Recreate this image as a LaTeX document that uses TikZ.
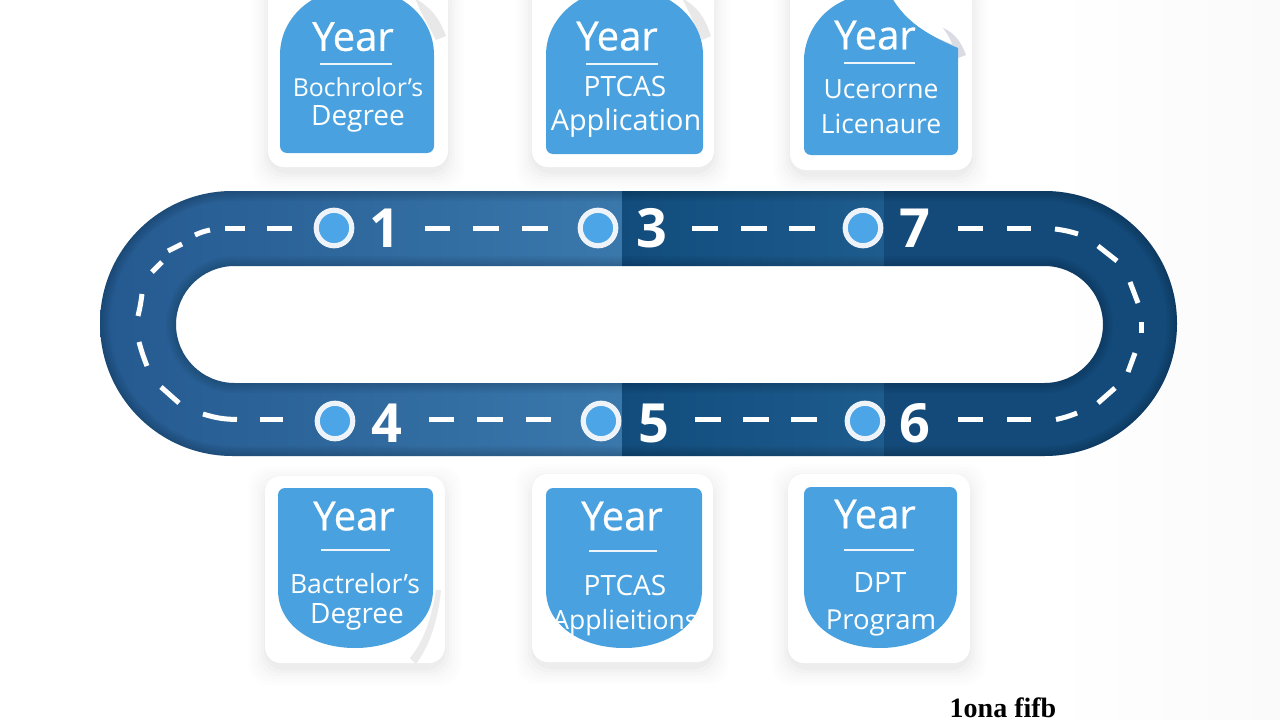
\documentclass[tikz,border=0pt]{standalone}
\usepackage{fontspec}
\setmainfont{Open Sans}
\newfontfamily\serifb{Liberation Serif}
\newfontfamily\yearfont[FakeBold=0.7]{Open Sans}
\definecolor{cardblue}{HTML}{49A2DF}
\definecolor{dotblue}{HTML}{4BA5E6}
\definecolor{tracka}{HTML}{24598F}
\definecolor{trackb}{HTML}{3A78AC}
\definecolor{trackc}{HTML}{114C7C}
\definecolor{trackd}{HTML}{1E5C8E}
\definecolor{tracke}{HTML}{134A79}
\definecolor{ringc}{HTML}{EDF3F8}
\newcommand{\subsize}[1]{\fontsize{#1}{#1}\selectfont}
\tikzset{
  dashw/.style={draw=white,line width=5pt,line cap=butt},
  dot/.style={circle,draw=ringc,line width=5.2pt,fill=dotblue,minimum size=35.5pt,inner sep=0pt},
  num/.style={text=white,font=\fontsize{54}{54}\selectfont\bfseries,inner sep=0pt,text height=38.5pt,text depth=0pt},
  yeartxt/.style={text=white,font=\yearfont\fontsize{40}{40}\selectfont,inner sep=0pt,text height=28.6pt,text depth=0pt},
  subtxt/.style={text=white,inner sep=0pt,text height=19pt,text depth=0pt,font=\subsize{26.5}},
  rule/.style={draw=white,line width=1.4pt,opacity=.9},
  whitecard/.style={fill=white,rounded corners=16pt}
}
% soft shadow + white card: l,t,r,b
\newcommand{\softcard}[4]{%
  \foreach \s/\o in {16/.006,13/.007,10/.009,7/.011,4/.014,1/.018}{%
    \fill[black,opacity=\o,rounded corners=20pt] (#1-\s,#2-\s+6) rectangle (#3+\s,#4+\s+6);}%
  \fill[whitecard] (#1,#2) rectangle (#3,#4);}
\begin{document}
\begin{tikzpicture}[x=1pt,y=-1pt]
\useasboundingbox (0,0) rectangle (1280,720);
\fill[white] (0,0) rectangle (1280,720);
\shade[left color=white,right color=black!2] (1050,0) rectangle (1280,720);

% ---------- track
\begin{scope}[even odd rule]
\clip[rounded corners=132.5pt] (100,191) rectangle (1177,456)
  [rounded corners=58.5pt] (176,266) rectangle (1103,383);
\shade[left color=tracka,right color=trackb] (90,185) rectangle (622,460);
\shade[left color=trackc,right color=trackd] (622,185) rectangle (884,460);
\fill[tracke] (884,185) rectangle (1190,460);
% edge shading
\foreach \w in {4,8,12,16,20}{
  \draw[black,opacity=.035,line width=\w pt,rounded corners=132.5pt] (100,191) rectangle (1177,456);
  \draw[black,opacity=.03,line width=\w pt,rounded corners=58.5pt] (176,266) rectangle (1103,383);
}
\end{scope}

% ---------- dashes, top
\foreach \a/\b in {225/245,267/292,425/450,473/499,522/548,692/718,741/767,789/815,958/983,1007/1031}
  \draw[dashw] (\a,228) -- (\b,228);
% ---------- dashes, bottom
\foreach \a/\b in {260/283,429/454,477/503,526/551,695/721,743/769,791/817,958/983,1007/1031}
  \draw[dashw] (\a,419.5) -- (\b,419.5);
% ---------- dashes, curves
\draw[dashw] (195,235) to[bend left=6] (210,230);
\draw[dashw] (168,251) -- (182,244);
\draw[dashw] (152,272) -- (162,262);
\draw[dashw] (142,294) to[bend left=3] (138,316);
\draw[dashw] (139,342) to[bend right=3] (147,366);
\draw[dashw] (161,387) -- (179,403);
\draw[dashw] (203,414) to[bend right=8] (237,419.5);
\draw[dashw] (1055,229) to[bend left=5] (1078,234);
\draw[dashw] (1098,246) -- (1117,261);
\draw[dashw] (1130,282) -- (1138,303);
\draw[dashw] (1141,322) -- (1141,333);
\draw[dashw] (1135,353) -- (1128,372);
\draw[dashw] (1115,388) -- (1098,403);
\draw[dashw] (1077,413) to[bend left=5] (1056,419.5);

% ---------- dots and numbers
\node[dot] (d1) at (334,228) {};
\node[dot] (d3) at (598,228) {};
\node[dot] (d7) at (863,228) {};
\node[dot] (d4) at (335,421) {};
\node[dot] (d5) at (601,421) {};
\node[dot] (d6) at (865,421) {};
\node[num] (n1) at (385,228) {1};
\node[num] (n3) at (652,228) {3};
\node[num] (n7) at (915,228) {7};
\node[num] (n4) at (387,423) {4};
\node[num] (n5) at (654,423) {5};
\node[num] (n6) at (915,423) {6};

% ---------- top cards
\softcard{268}{-20}{448}{167}
\softcard{532}{-20}{714}{167}
\softcard{790}{-20}{972}{170}

% card 1
\fill[black!9] (415,-2) .. controls (430,8) and (438,15) .. (446,36) -- (436,40) -- (420,10) -- cycle;
\fill[cardblue,rounded corners=7pt]
  (280,153) -- (280,100) [sharp corners] -- (280,55) .. controls (280,18) and (312,-12) .. (357,-12)
  .. controls (402,-12) and (434,18) .. (434,55) [rounded corners=7pt] -- (434,153) -- cycle;
% card 2
\fill[black!9] (682,-2) .. controls (696,6) and (704,15) .. (711,36) -- (702,40) -- (688,10) -- cycle;
\fill[cardblue,rounded corners=7pt]
  (546,154) -- (546,100) [sharp corners] -- (546,55) .. controls (546,18) and (580,-12) .. (624,-12)
  .. controls (668,-12) and (703,18) .. (703,55) [rounded corners=7pt] -- (703,154) -- cycle;
% card 3 with curled corner
\fill[blue!25!black!14] (930,24) .. controls (948,28) and (958,34) .. (966,55) -- (958,58) -- (940,40) -- cycle;
\fill[cardblue,rounded corners=7pt]
  (804,155) -- (804,100) [sharp corners] -- (804,58) .. controls (806,25) and (832,-4) .. (872,-6)
  -- (890,-6) .. controls (900,12) and (915,30) .. (958,48) [rounded corners=7pt] -- (958,155) -- cycle;
\fill[white] (890,-6) .. controls (900,12) and (915,30) .. (952,44) .. controls (945,25) and (925,10) .. (905,-6) -- cycle;

% ---------- bottom cards
\softcard{265}{476}{445}{663}
\softcard{532}{474}{713}{662}
\softcard{788}{474}{970}{663}

\fill[cardblue,rounded corners=7pt]
  (278,590) -- (278,488) -- (433,488) -- (433,590) [sharp corners]
  -- (433,590) .. controls (433,625) and (398,648) .. (355,648) .. controls (312,648) and (278,625) .. (278,590) -- cycle;
\fill[cardblue,rounded corners=7pt]
  (546,590) -- (546,488) -- (702,488) -- (702,590) [sharp corners]
  -- (702,590) .. controls (702,625) and (667,648) .. (624,648) .. controls (581,648) and (546,625) .. (546,590) -- cycle;
\fill[cardblue,rounded corners=7pt]
  (804,590) -- (804,487) -- (957,487) -- (957,590) [sharp corners]
  -- (957,590) .. controls (957,625) and (922,648) .. (880,648) .. controls (838,648) and (804,625) .. (804,590) -- cycle;
% curl of card 4
\fill[black!8] (441,590) .. controls (438,620) and (430,645) .. (416,664) -- (410,658) .. controls (425,640) and (432,615) .. (436,590) -- cycle;

% ---------- card text
\node[yeartxt] (y1) at (353,36.5) {Year};
\draw[rule] (320,64) -- (392,64);
\node[subtxt,font=\subsize{24.8}] (s1a) at (358,87) {Bochrolor's};
\node[subtxt,font=\subsize{28}] (s1b) at (358,116) {Degree};

\node[yeartxt] (y2) at (617,36) {Year};
\draw[rule] (586,64) -- (658,64);
\node[subtxt,font=\subsize{28}] (s2a) at (625,87) {PTCAS};
\node[subtxt,font=\subsize{28.8}] (s2b) at (626,121) {Application};

\node[yeartxt] (y3) at (875,35) {Year};
\draw[rule] (844,63) -- (915,63);
\node[subtxt] (s3a) at (881,89) {Ucerorne};
\node[subtxt] (s3b) at (881,124) {Licenaure};

\node[yeartxt] (y4) at (354,516) {Year};
\draw[rule] (321,550) -- (390,550);
\node[subtxt] (s4a) at (355,584) {Bactrelor's};
\node[subtxt,font=\subsize{28}] (s4b) at (357,614) {Degree};

\node[yeartxt] (y5) at (622,516) {Year};
\draw[rule] (589,551) -- (657,551);
\node[subtxt,font=\subsize{28}] (s5a) at (625,586) {PTCAS};
\node[subtxt] (s5b) at (625,620) {Applieitions};

\node[yeartxt] (y6) at (875,514) {Year};
\draw[rule] (844,550) -- (914,550);
\node[subtxt,font=\subsize{28}] (s6a) at (880,583) {DPT};
\node[subtxt,font=\subsize{27.5}] (s6b) at (881,620) {Program};

% ---------- caption
\node[anchor=base,inner sep=0pt,font=\serifb\bfseries\fontsize{28}{28}\selectfont] (cap) at (1003,717) {1ona fifb};
\end{tikzpicture}
\end{document}
